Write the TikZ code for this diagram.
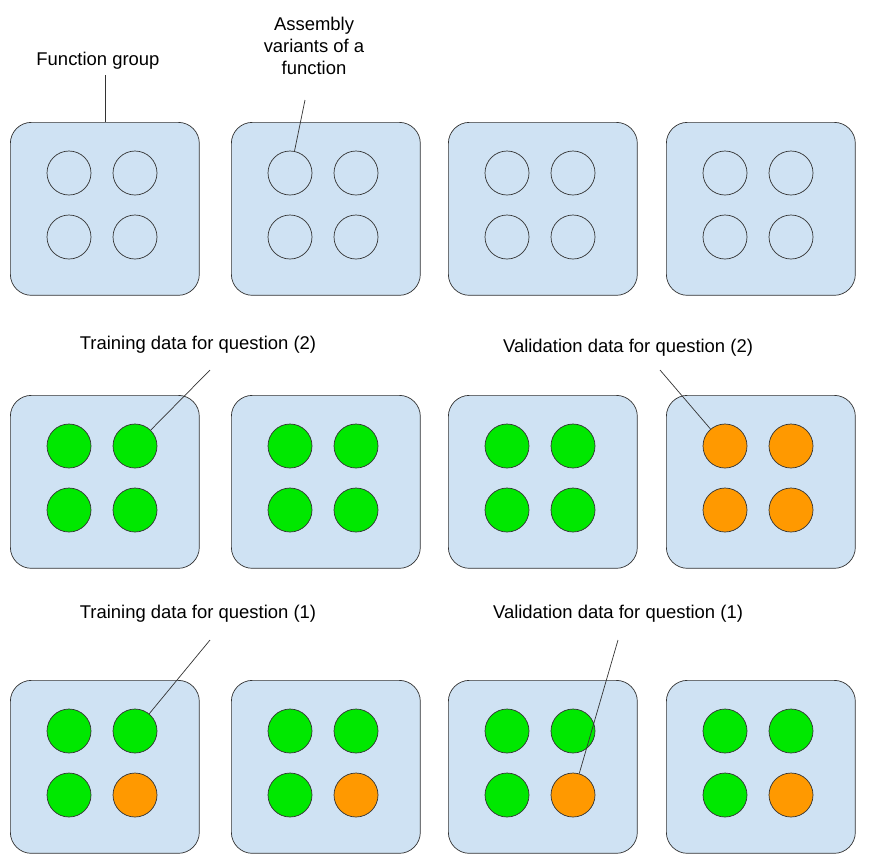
\documentclass[tikz,border=0pt]{standalone}
\usepackage{fontspec}
\setmainfont{Liberation Sans}
\usetikzlibrary{positioning}
\definecolor{groupblue}{HTML}{CFE2F3}
\definecolor{trainG}{HTML}{00E800}
\definecolor{validO}{HTML}{FF9900}

\begin{document}
\begin{tikzpicture}[
  x=0.02cm,y=-0.02cm,
  group/.style={
    rectangle,
    rounded corners=12pt,
    draw=black!80,
    fill=groupblue,
    minimum width=3.78cm,
    minimum height=3.46cm
  },
  variant/.style={
    circle,
    draw=black!80,
    inner sep=0pt,
    minimum size=0.88cm
  },
  empty/.style={variant,fill=groupblue},
  train/.style={variant,fill=trainG},
  valid/.style={variant,fill=validO},
  note/.style={font=\fontsize{10.5}{12.5}\selectfont,align=center},
  pointer/.style={draw=black!80}]
  \useasboundingbox (0,0) rectangle (874,860);
  % groups and variants
  \foreach \r/\top in {1/122,2/395,3/680} {
    \foreach \c/\left in {1/10,2/231,3/448,4/666} {
      \node[group,anchor=north west] (box-\r-\c) at (\left,\top) {};
      \foreach \k/\dx/\dy in {1/59/51,2/125/51,3/59/115,4/125/115} {
        \ifnum\r=1 \def\st{empty}\else\def\st{train}\fi
        \ifnum\r=2 \ifnum\c=4 \def\st{valid}\fi\fi
        \ifnum\r=3 \ifnum\k=4 \def\st{valid}\fi\fi
        \node[\st] (circ-\r-\c-\k) at (\left+\dx,\top+\dy) {};
      }
    }
  }
  % labels
  \node[note] (lbl-group) at (98,61) {Function group};
  \node[note] (lbl-variant) at (314,46) {Assembly\\variants of a\\function};
  \node[note] (lbl-train2) at (198,345) {Training data for question (2)};
  \node[note] (lbl-valid2) at (628,348) {Validation data for question (2)};
  \node[note] (lbl-train1) at (198,614) {Training data for question (1)};
  \node[note] (lbl-valid1) at (618,614) {Validation data for question (1)};
  \coordinate (p-group) at (105,75);
  \coordinate (p-variant) at (305,100);
  \coordinate (p-train2) at (210,370);
  \coordinate (p-valid2) at (660,370);
  \coordinate (p-train1) at (210,640);
  \coordinate (p-valid1) at (618,640);
  \draw[pointer] (p-group) -- (box-1-1.north -| p-group);
  \draw[pointer] (p-variant) -- (circ-1-2-1);
  \draw[pointer] (p-train2) -- (circ-2-1-2);
  \draw[pointer] (p-valid2) -- (circ-2-4-1);
  \draw[pointer] (p-train1) -- (circ-3-1-2);
  \draw[pointer] (p-valid1) -- (circ-3-3-4);
\end{tikzpicture}
\end{document}
